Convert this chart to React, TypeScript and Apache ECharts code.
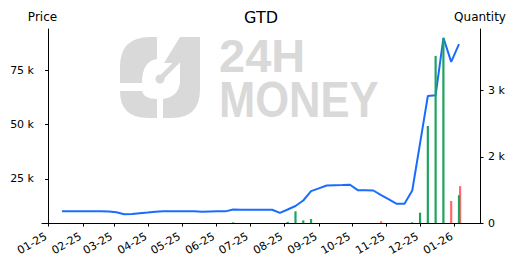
import React, { useEffect, useRef } from "react";
import * as echarts from "echarts";

// ---- data ----
const priceDates = [
  "2025-01-13","2025-01-20","2025-01-27","2025-02-03","2025-02-10","2025-02-17","2025-02-24",
  "2025-03-03","2025-03-10","2025-03-17","2025-03-24","2025-03-31","2025-04-07","2025-04-14",
  "2025-04-21","2025-04-28","2025-05-05","2025-05-12","2025-05-19","2025-05-26","2025-06-02",
  "2025-06-09","2025-06-16","2025-06-23","2025-06-30","2025-07-07","2025-07-14","2025-07-21",
  "2025-07-28","2025-08-04","2025-08-11","2025-08-18","2025-08-25","2025-09-01","2025-09-08",
  "2025-09-15","2025-09-22","2025-09-29","2025-10-06","2025-10-13","2025-10-20","2025-10-27",
  "2025-11-03","2025-11-10","2025-11-17","2025-11-24","2025-12-01","2025-12-08","2025-12-15",
  "2025-12-22","2025-12-29","2026-01-05",
];
const priceValues = [
  10000, 10000, 10000, 10000, 10000, 10000, 9900,
  9600, 8700, 8750, 9150, 9450, 9800, 10050,
  10050, 10050, 10050, 10050, 9800, 9950, 10000,
  10000, 10850, 10750, 10750, 10750, 10750, 10750,
  9300, 10850, 12450, 15000, 19300, 20600, 21900,
  22000, 22100, 22250, 19750, 19700, 19600, 17500,
  15500, 13500, 13500, 19600, 41300, 63100, 63450,
  89900, 78800, 87000,
];

const buyDates = [
  "2025-06-16","2025-08-04","2025-08-11","2025-08-18","2025-08-25",
  "2025-11-24","2025-12-01","2025-12-08","2025-12-15","2025-12-22","2026-01-05",
];
const buyValues = [15, 25, 265, 60, 90, 15, 235, 2200, 3790, 4190, 630];

const sellDates = ["2025-10-27", "2025-12-29", "2026-01-06"];
const sellValues = [40, 500, 835];

const xTickDates = [
  "2025-01-01","2025-02-01","2025-03-01","2025-04-01","2025-05-01","2025-06-01","2025-07-01",
  "2025-08-01","2025-09-01","2025-10-01","2025-11-01","2025-12-01","2026-01-01",
];
const xTickLabels = [
  "01-25","02-25","03-25","04-25","05-25","06-25","07-25",
  "08-25","09-25","10-25","11-25","12-25","01-26",
];
const priceTicks = [25000, 50000, 75000];
const qtyTicks = [0, 1500, 3000];

const TITLE = "GTD";
const LEFT_NAME = "Price";
const RIGHT_NAME = "Quantity";

// ---- helpers ----
const BASE = Date.UTC(2025, 0, 1);
function dayNum(s: string): number {
  const [y, m, d] = s.split("-").map(Number);
  return (Date.UTC(y, m - 1, d) - BASE) / 86400000;
}

const ICON_D =
  "M0 46 L0 30 Q0 0 30 0 L37 0 L37 22 Q22 24 22 46 Z " +
  "M0 54 L22 54 Q24 62 37 62 L37 81 L28 81 Q0 81 0 54 Z " +
  "M60 0 L80 0 L80 52 Q80 81 52 81 L43 81 L43 62 Q58 60 60 46 L60 26 L44 26 Z";

let registered = false;
function registerIcon() {
  if (registered) return;
  echarts.graphic.registerShape("wmIcon", echarts.graphic.extendPath(ICON_D, {}) as any);
  registered = true;
}

export default function App() {
  const ref = useRef<HTMLDivElement>(null);

  useEffect(() => {
    if (!ref.current) return;
    registerIcon();
    const chart = echarts.init(ref.current, null, { renderer: "svg" });

    const allX = [...priceDates, ...buyDates, ...sellDates].map(dayNum);
    const xLo = Math.min(...allX);
    const xHi = Math.max(...allX);
    const xPad = (xHi - xLo) * 0.05;
    const pLo = Math.min(...priceValues);
    const pHi = Math.max(...priceValues);
    const pPad = (pHi - pLo) * 0.05;
    const qHi = Math.max(...buyValues, ...sellValues) * 1.05;

    const tickDays = xTickDates.map(dayNum);
    const font = "DejaVu Sans";
    const black = "#000";
    const wm = "#d9d9d9";

    chart.setOption({
      animation: false,
      textStyle: { fontFamily: font },
      title: {
        text: TITLE,
        left: 261,
        top: 9,
        padding: 0,
        textAlign: "center",
        textStyle: { fontFamily: font, fontSize: 16, fontWeight: "normal", color: black },
      },
      grid: { left: 42, right: 37, top: 29, bottom: 45, containLabel: false, outerBoundsMode: "none" },
      graphic: [
        {
          type: "group",
          z: -10,
          silent: true,
          children: [
            { type: "wmIcon", x: 120, y: 37, style: { fill: wm } },
            {
              type: "line",
              shape: { x1: 160, y1: 79, x2: 177, y2: 62 },
              style: { stroke: wm, lineWidth: 5, lineCap: "round" },
            },
            { type: "circle", shape: { cx: 160, cy: 79, r: 4.5 }, style: { fill: wm } },
            {
              type: "text",
              x: 219,
              y: 55,
              style: {
                text: "24H",
                fontFamily: "Liberation Sans",
                fontWeight: "bold",
                fontSize: 47,
                fill: wm,
                align: "left",
                verticalAlign: "middle",
              },
            },
            {
              type: "text",
              x: 219,
              y: 100,
              scaleX: 0.87,
              style: {
                text: "MONEY",
                fontFamily: "Liberation Sans",
                fontWeight: "bold",
                fontSize: 50,
                fill: wm,
                align: "left",
                verticalAlign: "middle",
              },
            },
          ],
        },
        {
          type: "text",
          x: 42.5,
          y: 16.5,
          style: {
            text: LEFT_NAME,
            fontFamily: font,
            fontSize: 12,
            fill: black,
            align: "center",
            verticalAlign: "middle",
          },
        },
        {
          type: "text",
          x: 480,
          y: 16.5,
          style: {
            text: RIGHT_NAME,
            fontFamily: font,
            fontSize: 12,
            fill: black,
            align: "center",
            verticalAlign: "middle",
          },
        },
      ],
      xAxis: {
        type: "value",
        min: xLo - xPad,
        max: xHi + xPad,
        splitLine: { show: false },
        axisLine: { show: true, lineStyle: { color: black, width: 1 } },
        axisTick: { show: true, length: 3.5, customValues: tickDays, lineStyle: { color: black } },
        axisLabel: {
          customValues: tickDays,
          rotate: 30,
          margin: 11,
          padding: [0, 3, 0, 0],
          fontSize: 11,
          color: black,
          fontFamily: font,
          formatter: (v: number) => {
            const i = tickDays.findIndex((t) => Math.abs(t - v) < 0.01);
            return i >= 0 ? xTickLabels[i] : "";
          },
        },
      },
      yAxis: [
        {
          type: "value",
          position: "left",
          min: pLo - pPad,
          max: pHi + pPad,
          splitLine: { show: false },
          axisLine: { show: true, lineStyle: { color: black, width: 1 } },
          axisTick: { show: true, length: 3.5, customValues: priceTicks, lineStyle: { color: black } },
          axisLabel: {
            customValues: priceTicks,
            margin: 8,
            fontSize: 11,
            color: black,
            fontFamily: font,
            formatter: (v: number) => `${Math.round(v / 1000)} k`,
          },
        },
        {
          type: "value",
          position: "right",
          min: 0,
          max: qHi,
          splitLine: { show: false },
          axisLine: { show: true, lineStyle: { color: black, width: 1 } },
          axisTick: { show: true, length: 3.5, customValues: qtyTicks, lineStyle: { color: black } },
          axisLabel: {
            customValues: qtyTicks,
            margin: 8,
            fontSize: 11,
            color: black,
            fontFamily: font,
            formatter: (v: number) => (v === 0 ? "0" : `${Math.round(v / 1000)} k`),
          },
        },
      ],
      series: [
        {
          type: "line",
          name: "Price",
          yAxisIndex: 0,
          data: priceDates.map((d, i) => [dayNum(d), priceValues[i]]),
          showSymbol: false,
          lineStyle: { color: "#1a6cff", width: 2 },
          itemStyle: { color: "#1a6cff" },
          z: 2,
        },
        {
          type: "bar",
          name: "Sell",
          yAxisIndex: 1,
          data: sellDates.map((d, i) => [dayNum(d), sellValues[i]]),
          barWidth: 2.2,
          barGap: "-100%",
          itemStyle: { color: "#ff6b6b" },
          z: 3,
        },
        {
          type: "bar",
          name: "Buy",
          yAxisIndex: 1,
          data: buyDates.map((d, i) => [dayNum(d), buyValues[i]]),
          barWidth: 2.2,
          barGap: "-100%",
          itemStyle: { color: "#1fa35f" },
          z: 4,
        },
      ],
    });

    return () => chart.dispose();
  }, []);

  return (
    <div
      ref={ref}
      style={{ position: "absolute", left: 0, top: 0, width: 517, height: 268 }}
    />
  );
}
